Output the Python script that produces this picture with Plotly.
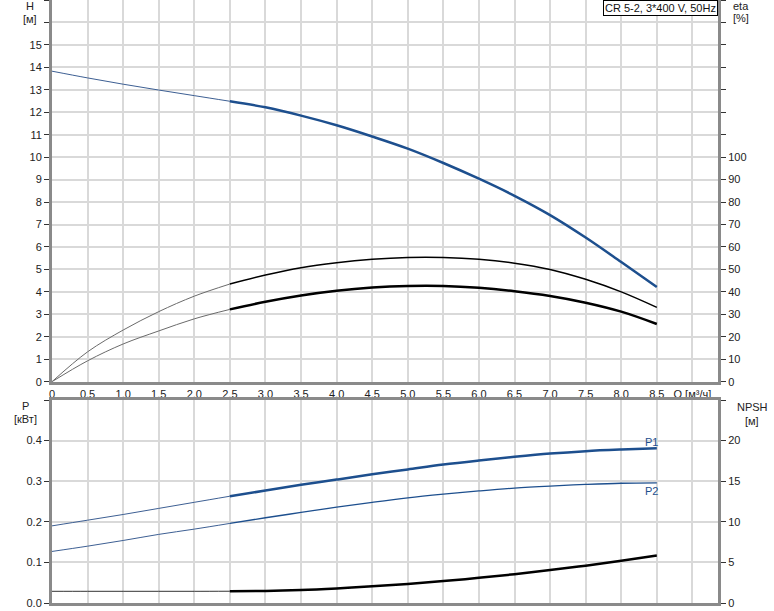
import plotly.graph_objects as go

# ---- data ----
q_thin = [0, 0.5, 1.0, 1.5, 2.0, 2.5]
q_main = [2.5, 3.0, 3.5, 4.0, 4.5, 5.0, 5.5, 6.0, 6.5, 7.0, 7.5, 8.0, 8.5]

h_thin = [13.83, 13.53, 13.25, 12.99, 12.74, 12.49]
h_main = [12.49, 12.22, 11.85, 11.42, 10.92, 10.38, 9.74, 9.04, 8.28, 7.42, 6.42, 5.33, 4.22]

eta1_thin = [0, 13.3, 23.0, 31.2, 38.1, 43.5]
eta1_main = [43.5, 47.5, 50.8, 53.0, 54.5, 55.3, 55.3, 54.5, 52.8, 50.0, 45.6, 40.0, 33.1]

eta2_thin = [0, 9.3, 16.8, 22.6, 28.0, 32.2]
eta2_main = [32.2, 35.6, 38.4, 40.5, 41.9, 42.6, 42.6, 41.8, 40.3, 38.2, 35.2, 31.2, 25.7]

p1_thin = [0.190, 0.204, 0.218, 0.233, 0.248, 0.263]
p1_main = [0.263, 0.277, 0.291, 0.304, 0.317, 0.329, 0.341, 0.351, 0.360, 0.368, 0.374, 0.378, 0.381]

p2_thin = [0.127, 0.140, 0.154, 0.169, 0.182, 0.196]
p2_main = [0.196, 0.210, 0.223, 0.236, 0.248, 0.259, 0.268, 0.276, 0.283, 0.288, 0.292, 0.295, 0.296]

npsh_thin = [1.44, 1.44, 1.44, 1.44, 1.44, 1.45]
npsh_main = [1.45, 1.48, 1.60, 1.80, 2.05, 2.35, 2.70, 3.10, 3.55, 4.05, 4.60, 5.20, 5.84]

x_tickvals = [0, 0.5, 1.0, 1.5, 2.0, 2.5, 3.0, 3.5, 4.0, 4.5, 5.0, 5.5, 6.0, 6.5, 7.0, 7.5, 8.0, 8.5, 9.0]
x_ticktext = ["0", "0,5", "1,0", "1,5", "2,0", "2,5", "3,0", "3,5", "4,0", "4,5", "5,0",
              "5,5", "6,0", "6,5", "7,0", "7,5", "8,0", "8,5", "Q [м³/ч]"]
h_tickvals = list(range(0, 18))
h_ticktext = [str(v) if v <= 15 else "" for v in h_tickvals]
eta_tickvals = list(range(0, 171, 10))
eta_ticktext = [str(v) if v <= 100 else "" for v in eta_tickvals]
p_tickvals = [0.0, 0.1, 0.2, 0.3, 0.4, 0.5]
p_ticktext = ["0.0", "0.1", "0.2", "0.3", "0.4", ""]
npsh_tickvals = [0, 5, 10, 15, 20, 25]
npsh_ticktext = ["0", "5", "10", "15", "20", ""]

BLUE = "#1d4f8e"
BLACK = "#000000"
THIN_GREY = "#6a6a6a"
THIN_BLUE = "#3d5f93"
GRID = "#d9d9d9"
AXIS = "#8a8a8a"

fig = go.Figure()

def add(x, y, color, width, xa, ya):
    fig.add_trace(go.Scatter(x=x, y=y, mode="lines", line=dict(color=color, width=width, shape="spline"),
                             xaxis=xa, yaxis=ya, showlegend=False, hoverinfo="skip"))

# top plot
add(q_thin, h_thin, THIN_BLUE, 1, "x", "y")
add(q_main, h_main, BLUE, 2.5, "x", "y")
add(q_thin, eta1_thin, THIN_GREY, 1, "x", "y2")
add(q_main, eta1_main, BLACK, 1.5, "x", "y2")
add(q_thin, eta2_thin, THIN_GREY, 1, "x", "y2")
add(q_main, eta2_main, BLACK, 2.5, "x", "y2")

# bottom plot
add(q_thin, p1_thin, THIN_BLUE, 1, "x2", "y3")
add(q_main, p1_main, BLUE, 2.5, "x2", "y3")
add(q_thin, p2_thin, THIN_BLUE, 1, "x2", "y3")
add(q_main, p2_main, BLUE, 1.3, "x2", "y3")
add(q_thin, npsh_thin, "#333333", 1, "x2", "y4")
add(q_main, npsh_main, BLACK, 2.5, "x2", "y4")

PLOT_H = 603.0
def py(v):
    return (PLOT_H - v) / PLOT_H
def px(v):
    return (v - 52) / 666.0

FAM = "Liberation Sans, Arial, sans-serif"
font = dict(family=FAM, size=11, color="#222222")
axfont = dict(family=FAM, size=11, color="#222222")

xcommon = dict(range=[0, 9.36], tickvals=x_tickvals, showgrid=True, gridcolor=GRID, gridwidth=2,
               showline=True, linecolor=AXIS, linewidth=3, zeroline=False, tickfont=axfont, ticks="")

fig.update_layout(
    width=774, height=611,
    margin=dict(l=52, r=56, t=0, b=8),
    paper_bgcolor="white", plot_bgcolor="white",
    font=font,
    xaxis=dict(**xcommon, domain=[0, 1], anchor="y", ticktext=x_ticktext, showticklabels=True),
    yaxis=dict(domain=[py(381.7), 1], range=[0, 17], tickvals=h_tickvals, ticktext=h_ticktext,
               showgrid=True, gridcolor=GRID, gridwidth=2, showline=True, linecolor=AXIS, linewidth=3,
               zeroline=False, ticks="outside", ticklen=5, tickcolor="#333333", tickfont=axfont),
    yaxis2=dict(overlaying="y", side="right", anchor="x", range=[0, 170], tickvals=eta_tickvals,
                ticktext=eta_ticktext, showgrid=False, showline=True, linecolor=AXIS, linewidth=3,
                zeroline=False, ticks="outside", ticklen=5, tickcolor="#333333", tickfont=axfont),
    xaxis2=dict(**xcommon, domain=[0, 1], anchor="y3", showticklabels=False, mirror=True),
    yaxis3=dict(domain=[0, py(400)], range=[0, 0.5], tickvals=p_tickvals, ticktext=p_ticktext,
                showgrid=True, gridcolor=GRID, gridwidth=2, showline=True, linecolor=AXIS, linewidth=3,
                zeroline=False, ticks="outside", ticklen=5, tickcolor="#333333", tickfont=axfont, anchor="x2"),
    yaxis4=dict(overlaying="y3", side="right", anchor="x2", range=[0, 25], tickvals=npsh_tickvals,
                ticktext=npsh_ticktext, showgrid=False, showline=True, linecolor=AXIS, linewidth=3,
                zeroline=False, ticks="outside", ticklen=5, tickcolor="#333333", tickfont=axfont),
)

def label(x, y, text, color="#222222", xanchor="center"):
    fig.add_annotation(xref="paper", yref="paper", x=px(x), y=py(y), text=text, showarrow=False,
                       xanchor=xanchor, yanchor="middle", font=dict(family=FAM, size=11, color=color))

label(30, 6, "H")
label(30, 19, "[м]")
label(741, 6, "eta")
label(741, 18, "[%]")
label(25, 406, "P")
label(25, 419, "[кВт]")
label(752, 407, "NPSH")
label(752, 421, "[м]")
label(651, 442, "P1", color=BLUE)
label(651, 491, "P2", color=BLUE)

fig.add_annotation(xref="paper", yref="paper", x=1, y=1, xanchor="right", yanchor="top",
                   text="CR 5-2, 3*400 V, 50Hz", showarrow=False, bgcolor="white",
                   bordercolor="#000000", borderwidth=1, borderpad=1,
                   font=dict(family=FAM, size=11, color="#111111"))

fig.write_html("out.html", config={"displayModeBar": False},
               post_script="document.body.style.margin='0px';document.body.style.overflow='hidden';")
